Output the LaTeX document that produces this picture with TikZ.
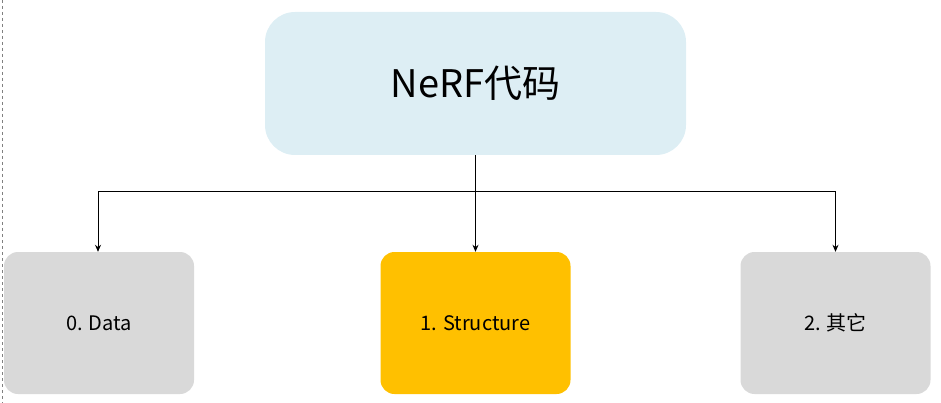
\documentclass[tikz,border=0pt]{standalone}
\usepackage{fontspec}
\setmainfont{Noto Sans CJK SC}
\usetikzlibrary{arrows.meta}
\definecolor{topblue}{HTML}{DDEEF4}
\definecolor{boxgray}{HTML}{D9D9D9}
\definecolor{boxyellow}{HTML}{FFC000}
\begin{document}
\begin{tikzpicture}[x=1pt,y=-1pt,
  box/.style={rounded corners=14pt,minimum width=190pt,minimum height=142pt,inner sep=0pt,font=\fontsize{20}{24}\selectfont},
  conn/.style={draw=black,line width=0.8pt,-{Stealth[length=7pt,width=6pt]}}]
\useasboundingbox (0,0) rectangle (941,403);
\draw[dashed,gray,line width=0.6pt] (2,0) -- (2,403);
\node[box,fill=topblue,minimum width=421pt,minimum height=143pt,rounded corners=30pt,font=\fontsize{38}{44}\selectfont] (top) at (475.5,83.5) {NeRF代码};
\node[box,fill=boxgray] (b0) at (99,323) {0. Data};
\node[box,fill=boxyellow] (b1) at (475.5,323) {1. Structure};
\node[box,fill=boxgray] (b2) at (835.5,323) {2. 其它};
\coordinate (j) at (475.5,191);
\draw[line width=0.8pt] (top.south) -- (j);
\draw[conn] (j) -- (b1.north);
\draw[conn] (j) -| ([xshift=-1pt]b0.north) ;
\draw[conn] (j) -| (b2.north);
\end{tikzpicture}
\end{document}
